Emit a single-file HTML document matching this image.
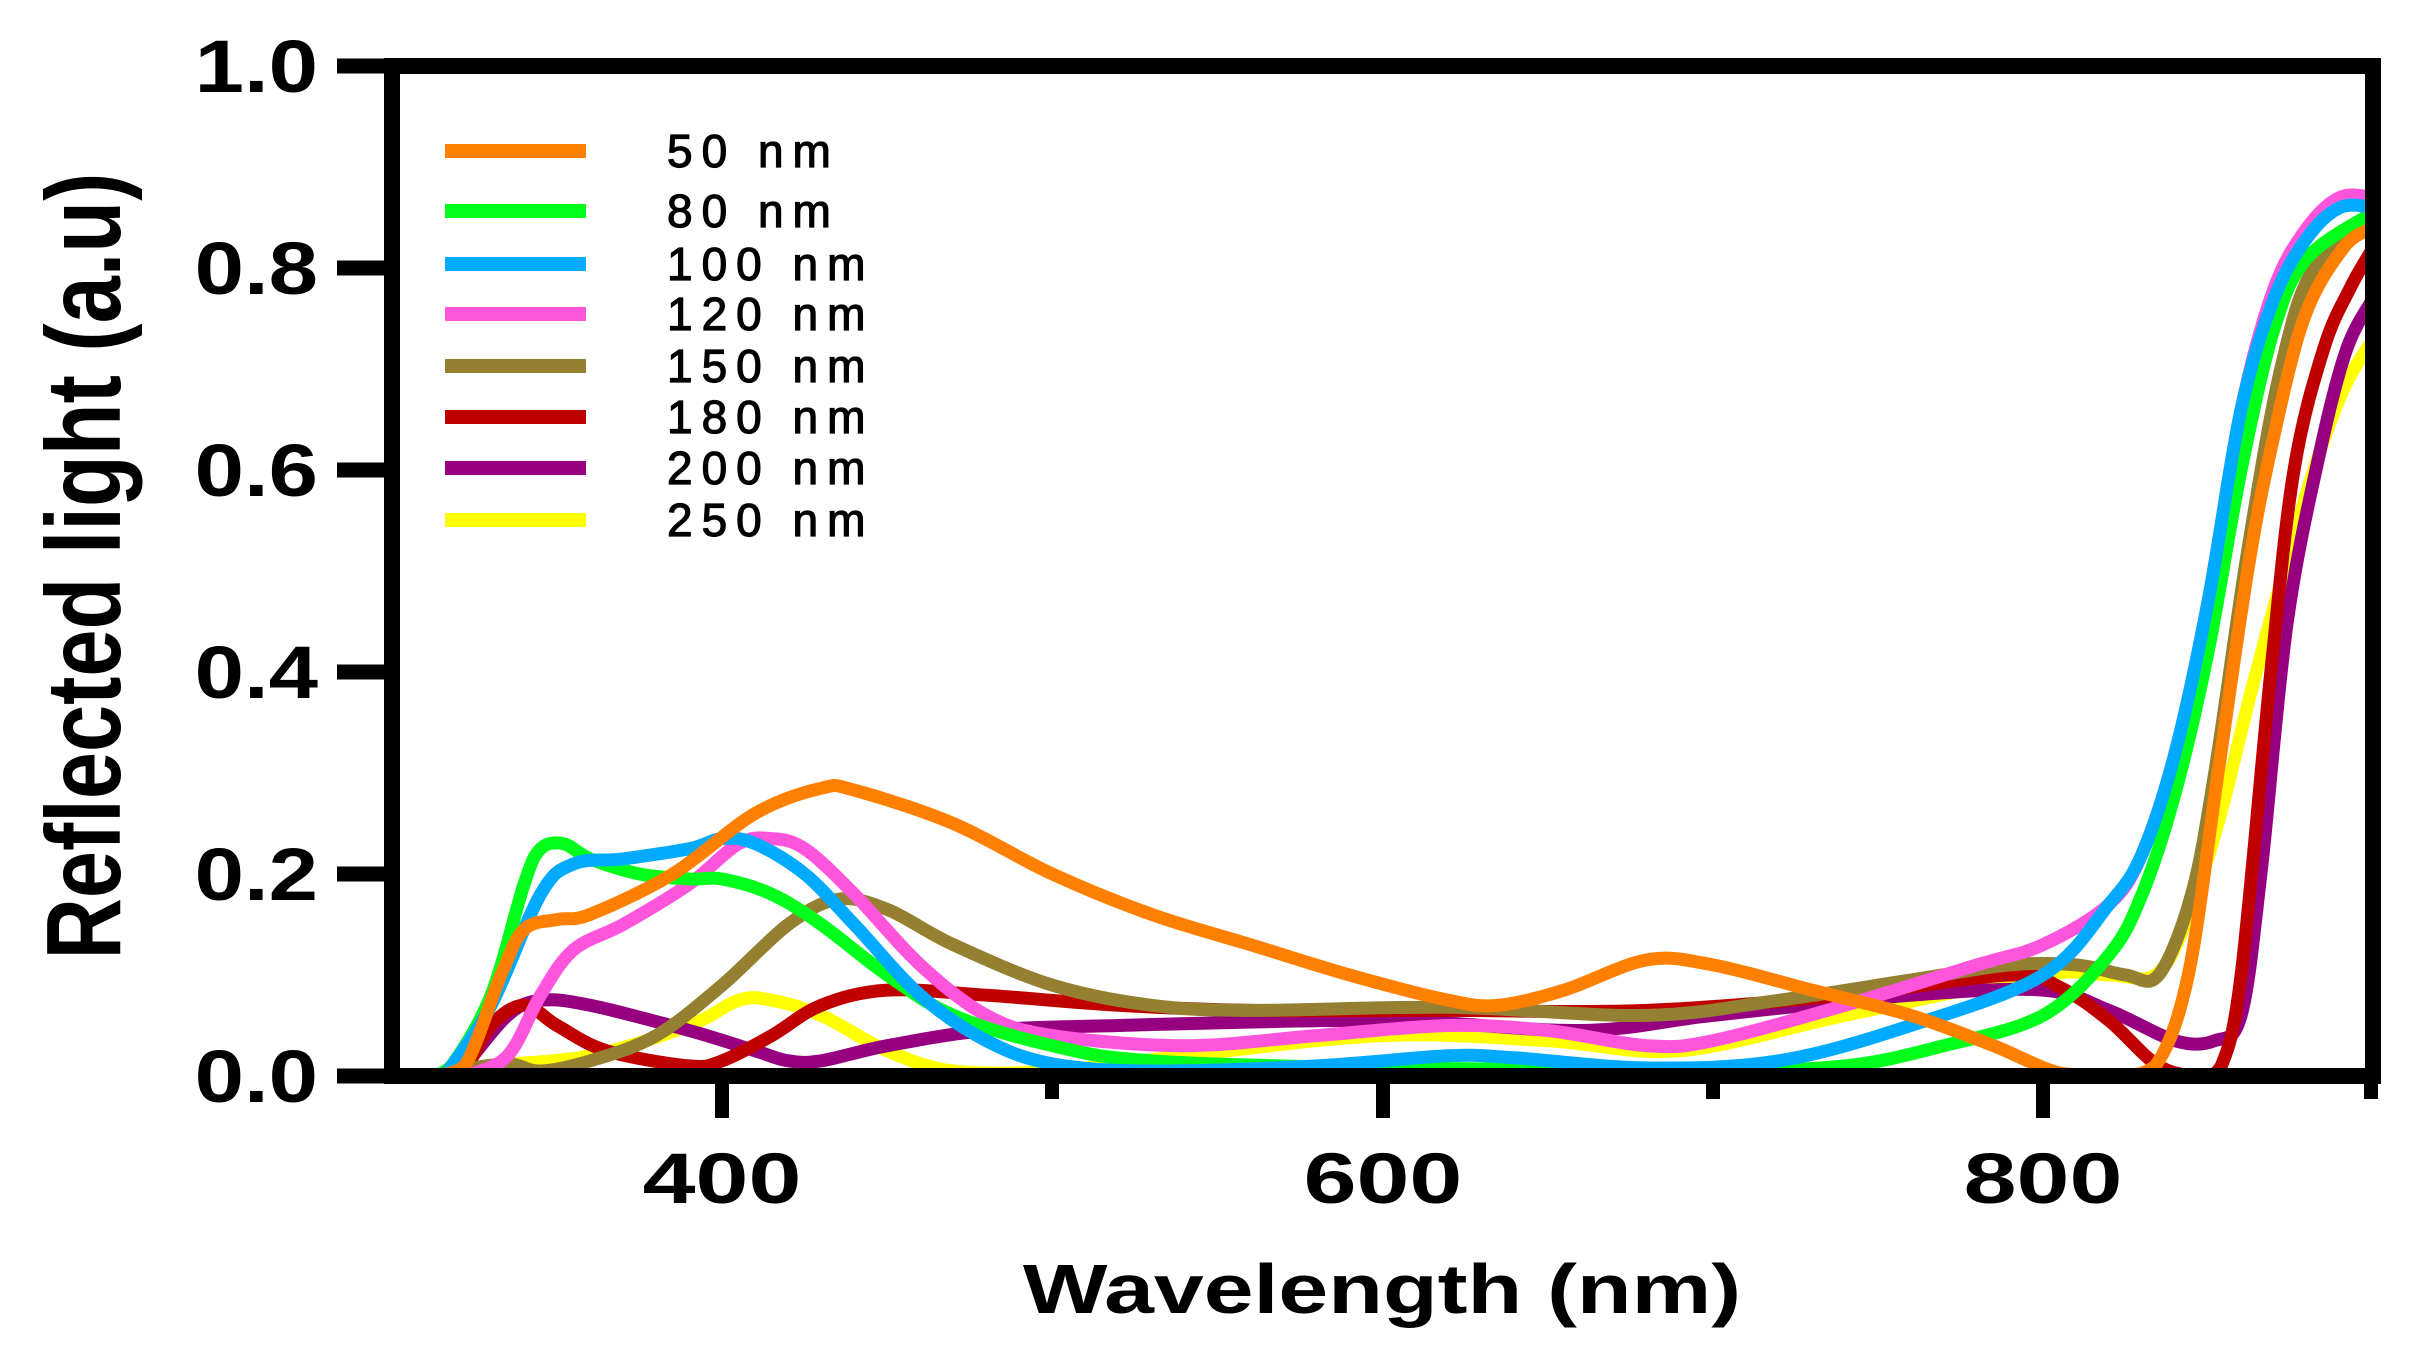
<!DOCTYPE html>
<html><head><meta charset="utf-8"><style>
html,body{margin:0;padding:0;background:#fff;}
svg{display:block}
text{font-family:"Liberation Sans",Arial,sans-serif;}
</style></head><body>
<svg id="s" width="2420" height="1351" viewBox="0 0 2420 1351" xmlns="http://www.w3.org/2000/svg">
<defs><clipPath id="c"><rect x="392" y="60" width="1981" height="1016"/></clipPath></defs>
<g id="curves" clip-path="url(#c)" fill="none" stroke-width="13" stroke-linejoin="round" stroke-linecap="round"></g>
<g stroke="#000" fill="none">
<path d="M392 66 H2373 V1076 H392 Z" stroke-width="16"/>
<path d="M337 66H392M337 268H392M337 470H392M337 672H392M337 874H392M337 1076H392" stroke-width="15"/>
<path d="M722 1076V1118M1383 1076V1118M2043 1076V1118" stroke-width="14"/>
<path d="M1052 1076V1099M1713 1076V1099M2371 1076V1099" stroke-width="14"/>
</g>
<g font-weight="bold" font-size="74" text-anchor="end" fill="#000">
<text x="318" y="92" transform="translate(318 0) scale(1.2 1) translate(-318 0)">1.0</text>
<text x="318" y="294" transform="translate(318 0) scale(1.2 1) translate(-318 0)">0.8</text>
<text x="318" y="496" transform="translate(318 0) scale(1.2 1) translate(-318 0)">0.6</text>
<text x="318" y="698" transform="translate(318 0) scale(1.2 1) translate(-318 0)">0.4</text>
<text x="318" y="900" transform="translate(318 0) scale(1.2 1) translate(-318 0)">0.2</text>
<text x="318" y="1102" transform="translate(318 0) scale(1.2 1) translate(-318 0)">0.0</text>
</g>
<g font-weight="bold" font-size="71" text-anchor="middle" fill="#000">
<text x="722" y="1203" transform="translate(722 0) scale(1.34 1) translate(-722 0)">400</text>
<text x="1383" y="1203" transform="translate(1383 0) scale(1.34 1) translate(-1383 0)">600</text>
<text x="2043" y="1203" transform="translate(2043 0) scale(1.34 1) translate(-2043 0)">800</text>
<text x="1382" y="1313" font-size="70" transform="translate(1382 0) scale(1.28 1) translate(-1382 0)">Wavelength (nm)</text>
</g>
<text transform="translate(120 566) rotate(-90) scale(0.8 1)" text-anchor="middle" font-weight="bold" font-size="106" fill="#000">Reflected light (a.u)</text>
<g id="legend" font-size="46" fill="#000" stroke="#000" stroke-width="1.2" letter-spacing="9"></g>
</svg>
<script>
var X=function(n){return 392+(n-300)*3.302},Y=function(v){return 1076-1010*v};
var S=[
["250 nm","#ffff00",[[318,0],[330,0.01],[360,0.02],[390,0.05],[405,0.075],[415,0.075],[430,0.06],[450,0.025],[470,0.005],[500,0.005],[540,0.02],[600,0.04],[650,0.035],[690,0.025],[740,0.06],[800,0.1],[820,0.1],[834,0.1],[843,0.15],[853,0.25],[863,0.38],[873,0.5],[882,0.6],[891,0.68],[900,0.73]]],
["200 nm","#960080",[[318,0],[322,0.01],[335,0.06],[345,0.075],[360,0.07],[390,0.045],[410,0.025],[420,0.015],[430,0.015],[450,0.03],[480,0.045],[520,0.05],[600,0.055],[660,0.045],[700,0.06],[760,0.08],[800,0.085],[820,0.065],[840,0.035],[852,0.035],[860,0.06],[866,0.2],[874,0.45],[884,0.62],[892,0.72],[900,0.77]]],
["180 nm","#c00000",[[318,0],[322,0.005],[330,0.05],[340,0.07],[350,0.05],[365,0.025],[390,0.01],[400,0.015],[415,0.04],[430,0.07],[450,0.085],[480,0.08],[520,0.07],[560,0.065],[620,0.065],[680,0.065],[740,0.08],[790,0.1],[805,0.088],[820,0.055],[835,0.01],[848,0],[854,0.01],[860,0.1],[869,0.4],[876,0.6],[885,0.72],[893,0.78],[900,0.82]]],
["150 nm","#948030",[[318,0],[320,0.005],[335,0.012],[345,0.005],[360,0.015],[380,0.04],[400,0.09],[420,0.15],[435,0.175],[450,0.165],[470,0.13],[500,0.09],[530,0.07],[560,0.065],[620,0.068],[680,0.06],[720,0.075],[760,0.095],[790,0.11],[810,0.11],[825,0.1],[835,0.1],[845,0.18],[852,0.3],[862,0.52],[872,0.7],[882,0.8],[900,0.85]]],
["120 nm","#ff55dd",[[318,0],[322,0],[335,0.02],[345,0.08],[355,0.125],[370,0.15],[390,0.19],[405,0.23],[415,0.235],[425,0.225],[440,0.18],[460,0.11],[480,0.06],[500,0.04],[540,0.03],[580,0.04],[620,0.05],[650,0.045],[680,0.03],[700,0.035],[740,0.07],[780,0.11],[800,0.13],[820,0.17],[830,0.22],[840,0.32],[850,0.47],[860,0.66],[870,0.78],[880,0.84],[890,0.87],[900,0.87]]],
["80 nm","#00ff1a",[[312,0],[318,0.01],[330,0.08],[340,0.19],[345,0.225],[352,0.23],[360,0.215],[375,0.2],[390,0.195],[400,0.195],[415,0.18],[430,0.15],[450,0.1],[470,0.06],[500,0.03],[530,0.015],[600,0.008],[700,0.006],[740,0.01],[770,0.03],[800,0.06],[820,0.12],[830,0.18],[840,0.28],[850,0.42],[860,0.6],[870,0.74],[880,0.81],[900,0.855]]],
["100 nm","#00aaff",[[316,0],[330,0.07],[345,0.18],[355,0.21],[370,0.215],[390,0.225],[400,0.235],[410,0.23],[425,0.2],[440,0.15],[460,0.08],[480,0.035],[500,0.012],[530,0.005],[580,0.01],[620,0.02],[640,0.018],[680,0.008],[720,0.015],[760,0.05],[800,0.1],[820,0.17],[830,0.22],[840,0.32],[850,0.47],[860,0.66],[870,0.77],[880,0.83],[890,0.86],[900,0.86]]],
["50 nm","#ff8000",[[312,0],[322,0.01],[333,0.1],[340,0.145],[350,0.155],[360,0.16],[385,0.2],[410,0.26],[430,0.285],[440,0.283],[470,0.25],[500,0.2],[530,0.16],[560,0.13],[590,0.1],[620,0.075],[635,0.07],[655,0.085],[680,0.115],[700,0.11],[730,0.085],[760,0.06],[785,0.03],[805,0.003],[822,0],[834,0.01],[844,0.1],[853,0.3],[862,0.5],[869,0.62],[879,0.75],[891,0.82],[900,0.84]]]
];
function path(p){var q=p.map(function(a){return[X(a[0]),Y(a[1])]});var d="M"+q[0][0]+" "+q[0][1];
for(var i=0;i<q.length-1;i++){var p0=q[i-1]||q[i],p1=q[i],p2=q[i+1],p3=q[i+2]||q[i+1];
var c1=[p1[0]+(p2[0]-p0[0])/6,p1[1]+(p2[1]-p0[1])/6],c2=[p2[0]-(p3[0]-p1[0])/6,p2[1]-(p3[1]-p1[1])/6];
c1[1]=Math.min(c1[1],1076);c2[1]=Math.min(c2[1],1076);
d+=" C"+c1[0].toFixed(1)+" "+c1[1].toFixed(1)+" "+c2[0].toFixed(1)+" "+c2[1].toFixed(1)+" "+p2[0].toFixed(1)+" "+p2[1].toFixed(1);}return d;}
var ns="http://www.w3.org/2000/svg",g=document.getElementById("curves");
S.forEach(function(s){var e=document.createElementNS(ns,"path");e.setAttribute("d",path(s[2]));e.setAttribute("stroke",s[1]);g.appendChild(e);});
var L=[["50 nm","#ff8000"],["80 nm","#00ff1a"],["100 nm","#00aaff"],["120 nm","#ff55dd"],["150 nm","#948030"],["180 nm","#c00000"],["200 nm","#960080"],["250 nm","#ffff00"]];
var ly=[151,211,264,314,366,417,468,520],lg=document.getElementById("legend");
L.forEach(function(l,i){var r=document.createElementNS(ns,"rect");r.setAttribute("x",445);r.setAttribute("y",ly[i]-7);r.setAttribute("width",141);r.setAttribute("height",14);r.setAttribute("fill",l[1]);r.setAttribute("stroke","none");lg.appendChild(r);
var t=document.createElementNS(ns,"text");t.setAttribute("x",667);t.setAttribute("y",ly[i]+16);t.textContent=l[0];lg.appendChild(t);});
</script>
</body></html>
